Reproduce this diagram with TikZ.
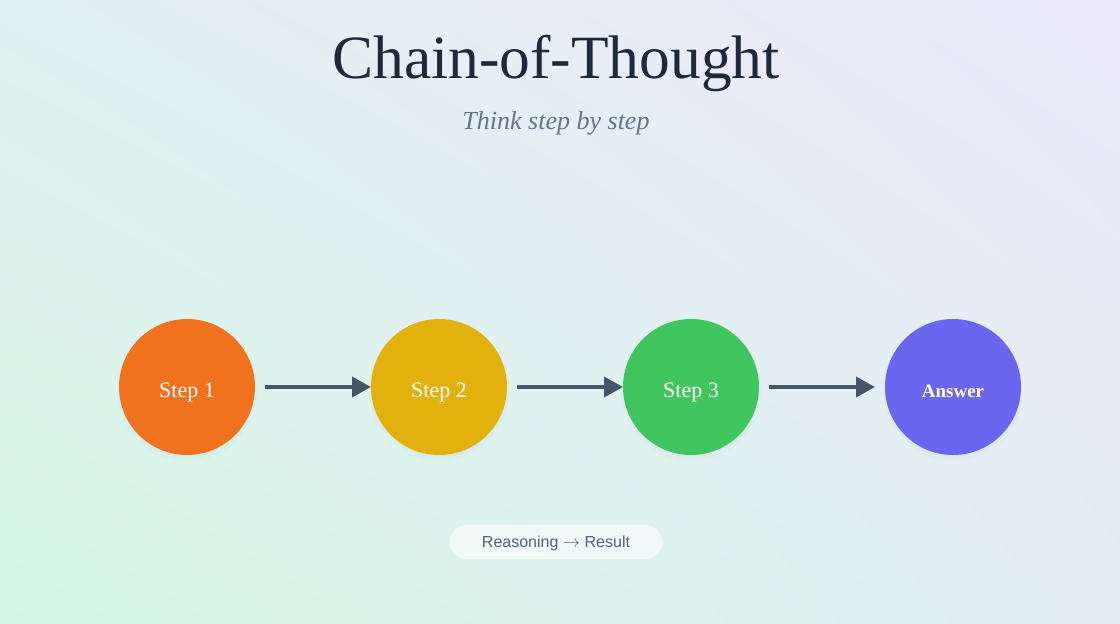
\documentclass[tikz,border=0pt]{standalone}
\usepackage{fontspec}
\setmainfont{Liberation Serif}
\setsansfont{Liberation Sans}
\usepackage{tikz}
\usetikzlibrary{arrows.meta,shadows,shadings}

\definecolor{bgTL}{HTML}{E2F1F2}
\definecolor{bgTR}{HTML}{EDEAFC}
\definecolor{bgBL}{HTML}{D5F8E6}
\definecolor{bgBR}{HTML}{E3EEF3}
\definecolor{stepOrange}{HTML}{F0721E}
\definecolor{stepYellow}{HTML}{E2B10E}
\definecolor{stepGreen}{HTML}{41C55F}
\definecolor{stepIndigo}{HTML}{6A66F0}
\definecolor{arrowSlate}{HTML}{475569}
\definecolor{titleInk}{HTML}{1E293B}
\definecolor{subInk}{HTML}{64748B}
\definecolor{pillInk}{HTML}{566078}

\tikzset{
  stepnode/.style={circle, minimum size=136pt, inner sep=0pt, outer sep=0pt,
    text=white, font=\fontsize{22}{24}\selectfont,
    text height=21pt, text depth=0pt,
    circular drop shadow={shadow xshift=0pt, shadow yshift=-4pt,
      shadow scale=1.04, opacity=0.08, fill=black!60}},
  flow/.style={draw=arrowSlate, line width=4pt,
    -{Triangle[length=19pt,width=20pt]}, shorten <=10pt}
}

\begin{document}
\begin{tikzpicture}[x=1pt, y=-1pt]

%% background
\useasboundingbox (0,0) rectangle (1120,624);
\shade[upper left=bgTL, upper right=bgTR, lower left=bgBL, lower right=bgBR]
  (0,0) rectangle (1120,624);

%% title
\node[anchor=base, text=titleInk, font=\fontsize{61.5}{66}\selectfont]
  (title) at (556,78) {Chain-of-Thought};
\node[anchor=base, text=subInk, font=\fontsize{26}{30}\selectfont\itshape]
  (subtitle) at (556,129) {Think step by step};

%% steps
\node[stepnode, fill=stepOrange] (s1) at (187,387) {Step 1};
\node[stepnode, fill=stepYellow] (s2) at (439,387) {Step 2};
\node[stepnode, fill=stepGreen]  (s3) at (691,387) {Step 3};
\node[stepnode, fill=stepIndigo, font=\fontsize{19}{22}\selectfont\bfseries]
  (ans) at (953,387) {Answer};

%% arrows
\draw[flow] (s1) -- (s2);
\draw[flow] (s2) -- (s3);
\draw[flow, shorten >=10pt] (s3) -- (ans);

%% footer
\node[rounded corners=17pt, fill=white, fill opacity=0.6, text opacity=1,
  text=pillInk, minimum width=213pt, minimum height=34pt,
  text height=12pt, text depth=2pt,
  font=\sffamily\fontsize{16}{18}\selectfont]
  (pill) at (556,542) {Reasoning $\rightarrow$ Result};

\end{tikzpicture}
\end{document}
